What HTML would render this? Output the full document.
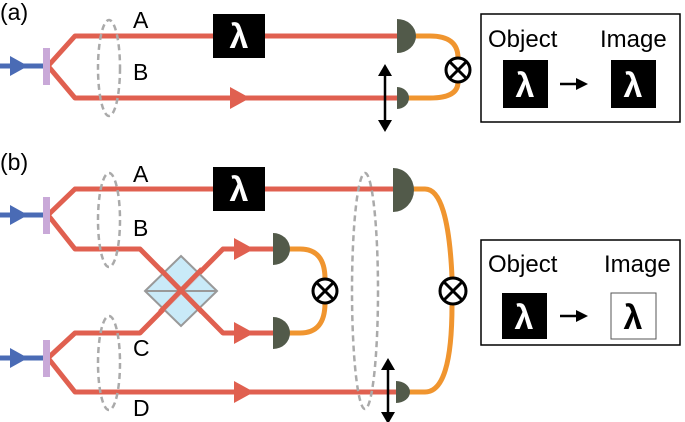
<!DOCTYPE html>
<html><head><style>body{margin:0;background:#fff}svg{display:block}text{font-family:"Liberation Sans",sans-serif}</style></head><body>
<svg width="685" height="422" viewBox="0 0 685 422" xmlns="http://www.w3.org/2000/svg">
<g font-size="23" fill="#000">
<text x="0" y="20">(a)</text>
<text x="0" y="170">(b)</text>
<text x="133" y="28">A</text><text x="133" y="80">B</text>
<text x="133" y="182">A</text><text x="133" y="236">B</text>
<text x="133" y="356">C</text><text x="133" y="416">D</text>
</g>
<g stroke="#4a6bb5" stroke-width="5" fill="#4a6bb5">
<line x1="0" y1="66" x2="44" y2="66"/><path d="M10,56L28,66L10,76z" stroke="none"/>
<line x1="0" y1="215" x2="44" y2="215"/><path d="M10,205L28,215L10,225z" stroke="none"/>
<line x1="0" y1="358" x2="44" y2="358"/><path d="M10,348L28,358L10,368z" stroke="none"/>
</g>
<g stroke="#e06050" stroke-width="5" fill="none" stroke-linejoin="round">
<path d="M48,66L75,36H397"/><path d="M48,66L75,98H397"/>
<path d="M48,215L75,189H393"/><path d="M48,215L75,249H140L223,333H273"/>
<path d="M48,358L75,333H140L223,249H273"/><path d="M48,358L75,392H396"/>
</g>
<g fill="#e06050">
<path d="M230,87L250,98L230,109z"/>
<path d="M234,238L254,249L234,260z"/><path d="M234,322L254,333L234,344z"/>
<path d="M234,381L254,392L234,403z"/>
</g>
<g fill="#c9a9d8"><rect x="43" y="48" width="7" height="37"/><rect x="43" y="197" width="7" height="37"/><rect x="43" y="340" width="7" height="37"/></g>
<g stroke="#999" stroke-width="2"><path d="M181,256L217,291L181,326L145,291z" fill="#bfe6f7" fill-opacity="0.85"/><line x1="145" y1="291" x2="217" y2="291"/></g>
<g stroke="#e06050" stroke-width="5" fill="none"><path d="M160,269L202,312"/><path d="M160,312L202,269"/></g>
<g stroke="#aaa" stroke-width="2.5" stroke-dasharray="6,4" fill="none">
<ellipse cx="109" cy="68" rx="11" ry="48"/>
<ellipse cx="109" cy="220" rx="11" ry="47"/>
<ellipse cx="109" cy="363" rx="11" ry="47"/>
<ellipse cx="365" cy="291" rx="13" ry="118"/>
</g>
<rect x="213" y="14" width="52" height="44" fill="#000"/><text x="239" y="48" font-size="34" font-weight="bold" fill="#fff" text-anchor="middle">λ</text>
<rect x="213" y="167" width="52" height="44" fill="#000"/><text x="239" y="201" font-size="34" font-weight="bold" fill="#fff" text-anchor="middle">λ</text>
<g stroke="#f0952f" stroke-width="5" fill="none">
<path d="M410,36H430Q458,36 458,58"/><path d="M403,98H430Q458,98 458,82"/>
<path d="M285,249H300Q325,249 325,279"/><path d="M285,333H300Q325,333 325,303"/>
<path d="M410,189H425Q448,189 452,277"/><path d="M405,392H425Q452,392 452,305"/>
</g>
<g fill="#525a4a">
<path d="M397,19A19,17 0 0 1 397,53z"/><path d="M397,87A12,11 0 0 1 397,109z"/>
<path d="M273,233A17,16 0 0 1 273,265z"/><path d="M273,317A17,16 0 0 1 273,349z"/>
<path d="M393,168A21,22 0 0 1 393,212z"/><path d="M396,381A14,11 0 0 1 396,403z"/>
</g>
<g stroke="#000" stroke-width="3" fill="#fff">
<circle cx="458" cy="70" r="12"/><circle cx="325" cy="291" r="12"/><circle cx="453" cy="291" r="13"/>
</g>
<g stroke="#000" stroke-width="3">
<path d="M450,62L466,78M466,62L450,78"/><path d="M317,283L333,299M333,283L317,299"/><path d="M444,282L462,300M462,282L444,300"/>
</g>
<g stroke="#000" stroke-width="2.5"><line x1="385" y1="74" x2="385" y2="122"/><line x1="388" y1="368" x2="388" y2="414"/></g>
<g fill="#000"><path d="M378,76L385,64L392,76z"/><path d="M378,120L385,132L392,120z"/><path d="M381,370L388,358L395,370z"/><path d="M381,412L388,424L395,412z"/></g>
<rect x="481" y="14" width="199" height="108" fill="#fff" stroke="#000" stroke-width="1.5"/>
<text x="488" y="47" font-size="24">Object</text><text x="600" y="47" font-size="24">Image</text>
<rect x="503" y="60" width="45" height="48" fill="#000"/><text x="525" y="97" font-size="34" font-weight="bold" fill="#fff" text-anchor="middle">λ</text>
<rect x="611" y="60" width="45" height="48" fill="#000"/><text x="633" y="97" font-size="34" font-weight="bold" fill="#fff" text-anchor="middle">λ</text>
<line x1="560" y1="84" x2="578" y2="84" stroke="#000" stroke-width="2.5"/><path d="M576,78L588,84L576,90z"/>
<rect x="481" y="240" width="199" height="105" fill="#fff" stroke="#000" stroke-width="1.5"/>
<text x="488" y="272" font-size="24">Object</text><text x="604" y="272" font-size="24">Image</text>
<rect x="502" y="293" width="45" height="46" fill="#000"/><text x="524" y="329" font-size="34" font-weight="bold" fill="#fff" text-anchor="middle">λ</text>
<rect x="611" y="293" width="45" height="46" fill="#fff" stroke="#555" stroke-width="1"/><text x="633" y="329" font-size="34" font-weight="bold" fill="#000" text-anchor="middle">λ</text>
<line x1="560" y1="316" x2="578" y2="316" stroke="#000" stroke-width="2.5"/><path d="M576,310L588,316L576,322z"/>
</svg>
</body></html>
